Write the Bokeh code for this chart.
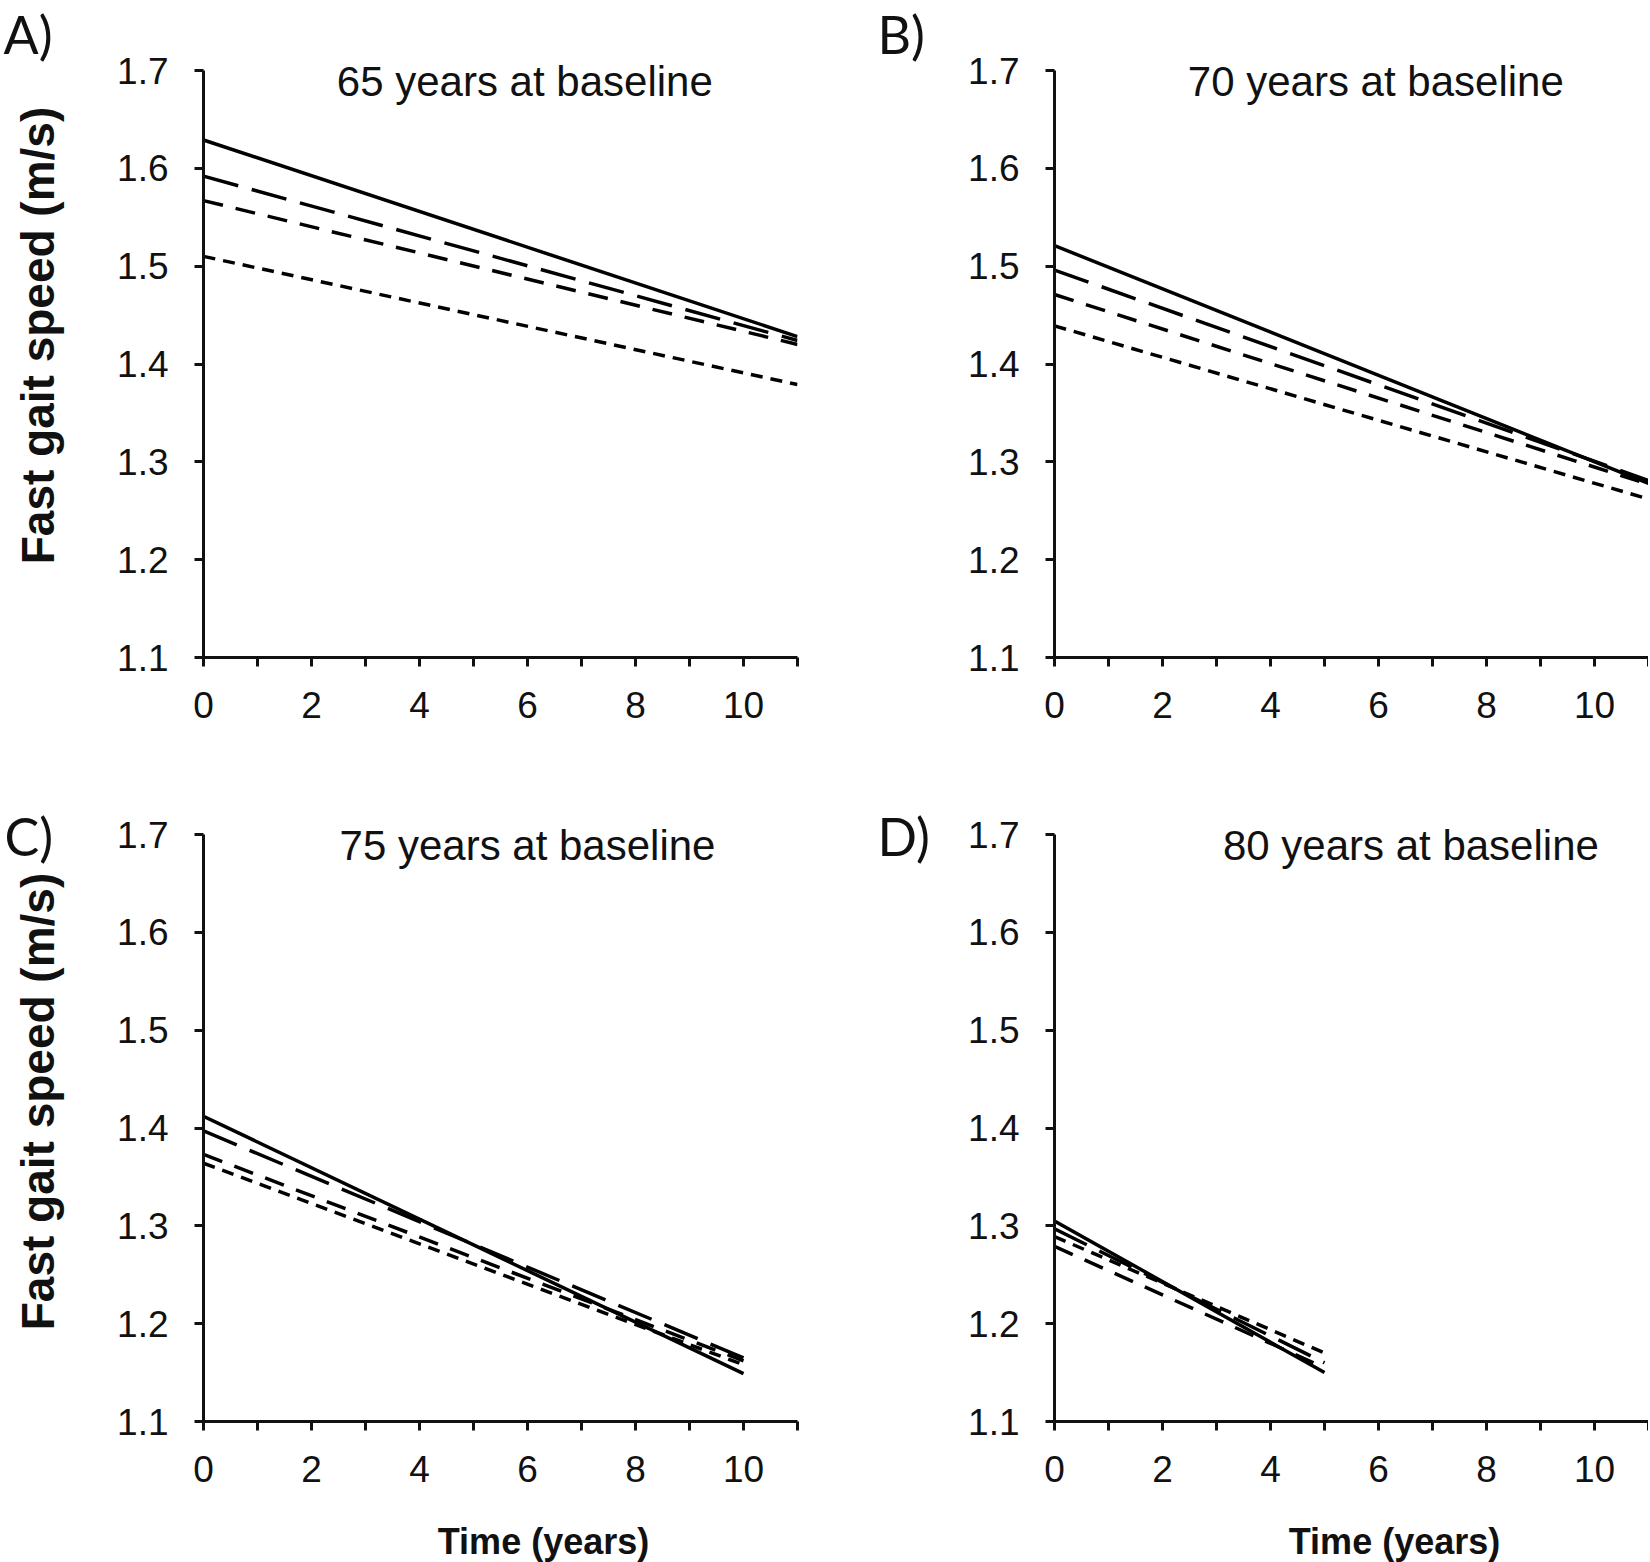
import math

from bokeh.embed import file_html
from bokeh.layouts import column, row
from bokeh.models import FixedTicker, Label, Range1d
from bokeh.plotting import figure
from bokeh.resources import INLINE

# Time since baseline (years), start and end of each fitted line
years_a = [0, 11]
years_b = [0, 11]
years_c = [0, 10]
years_d = [0, 5]

# Predicted fast gait speed (m/s) at start and end, per line style
a_solid = [1.629, 1.428]
a_long = [1.592, 1.424]
a_medium = [1.567, 1.420]
a_short = [1.510, 1.379]

b_solid = [1.521, 1.278]
b_long = [1.496, 1.281]
b_medium = [1.471, 1.277]
b_short = [1.439, 1.262]

c_solid = [1.412, 1.149]
c_long = [1.397, 1.165]
c_medium = [1.373, 1.162]
c_short = [1.364, 1.158]

d_solid = [1.305, 1.150]
d_long = [1.297, 1.160]
d_medium = [1.279, 1.155]
d_short = [1.289, 1.170]

panel_letters = ["A)", "B)", "C)", "D)"]
panel_titles = ["65 years at baseline", "70 years at baseline",
                "75 years at baseline", "80 years at baseline"]
y_ticks = [1.1, 1.2, 1.3, 1.4, 1.5, 1.6, 1.7]
x_ticks = [0, 2, 4, 6, 8, 10]
x_minor = [1, 3, 5, 7, 9, 11]

FONT = "Liberation Sans"
INK = "#111111"
DASHES = {"solid": "solid", "long": "36 14", "medium": "20 13", "short": "12 8"}

PX = 587 / 0.6          # pixels per m/s on the y axis
FW = 594                # frame width of a panel (0..11 years)

# top row: frames start 4px from the top, the 1.7 tick sits 66px lower
TOP = dict(top=4, extra=66, bottom=123)
# bottom row: frames start 4px below the row, the 1.7 tick 50px lower
BOT = dict(top=4, extra=50, bottom=90)


def blank(width, height, x0, top_y, bottom_y, borders):
    # empty strip whose frame coordinates are page pixels
    t, b = borders
    s = figure(frame_width=width, frame_height=height,
               min_border_left=0, min_border_right=0,
               min_border_top=t, min_border_bottom=b,
               x_range=Range1d(x0, x0 + width),
               y_range=Range1d(bottom_y, top_y),
               x_axis_type=None, y_axis_type=None,
               output_backend="svg", toolbar_location=None, tools="")
    s.outline_line_color = None
    s.background_fill_color = "white"
    s.border_fill_color = "white"
    return s


def add_letter(s, x, y, letter):
    s.add_layout(Label(x=x, y=y, text=letter, text_font="Lato",
                       text_font_size="52px", text_color=INK,
                       text_align="left", text_baseline="middle"))


def add_ylabel(s, y):
    s.add_layout(Label(x=37, y=y, text="Fast gait speed (m/s)",
                       text_font=FONT, text_font_size="46px",
                       text_font_style="bold", text_color=INK,
                       angle=math.pi / 2, text_align="center",
                       text_baseline="middle"))


def make_panel(years, series, title, left, right, geo, title_x):
    fh = 587 + geo["extra"]
    p = figure(frame_width=FW, frame_height=fh,
               min_border_left=left, min_border_right=right,
               min_border_top=geo["top"], min_border_bottom=geo["bottom"],
               x_range=(0, 11), y_range=(1.1, 1.7 + geo["extra"] / PX),
               output_backend="svg", toolbar_location=None, tools="")
    p.outline_line_color = None
    p.grid.grid_line_color = None
    p.background_fill_color = "white"
    p.border_fill_color = "white"

    for style, vals in series:
        p.line(years, vals, line_color="black", line_width=3.5,
               line_dash=DASHES[style])

    p.xaxis.ticker = FixedTicker(ticks=x_ticks, minor_ticks=x_minor)
    p.yaxis.ticker = FixedTicker(ticks=y_ticks, minor_ticks=[])
    p.yaxis.bounds = (1.1, 1.7)
    for ax in (p.xaxis, p.yaxis):
        ax.axis_line_width = 3
        ax.axis_line_color = INK
        ax.major_tick_line_width = 3
        ax.major_tick_line_color = INK
        ax.minor_tick_line_width = 3
        ax.minor_tick_line_color = INK
        ax.major_tick_in = 0
        ax.major_tick_out = 9
        ax.minor_tick_in = 0
        ax.minor_tick_out = 9
        ax.major_label_text_font = FONT
        ax.major_label_text_font_size = "37px"
        ax.major_label_text_color = INK
    p.xaxis.major_label_standoff = 25
    p.yaxis.major_label_standoff = 26

    p.add_layout(Label(x=title_x, y=1.689, text=title,
                       text_font=FONT, text_font_size="42px",
                       text_color=INK, text_align="center",
                       text_baseline="middle"))
    return p


# ---- top row (page y 0..780) ----
top_fh = 587 + TOP["extra"]
y_top0 = TOP["top"]
y_top1 = y_top0 + top_fh
pa = make_panel(years_a, [("solid", a_solid), ("long", a_long),
                          ("medium", a_medium), ("short", a_short)],
                panel_titles[0], 95, 41, TOP, 5.95)
pb = make_panel(years_b, [("solid", b_solid), ("long", b_long),
                          ("medium", b_medium), ("short", b_short)],
                panel_titles[1], 94, 0, TOP, 5.95)
sa = blank(108, top_fh, 0, y_top0, y_top1, (TOP["top"], TOP["bottom"]))
sb = blank(122, top_fh, 838, y_top0, y_top1, (TOP["top"], TOP["bottom"]))
add_letter(sa, 3, 33, panel_letters[0])
add_letter(sb, 877, 33, panel_letters[1])
add_ylabel(sa, 335)

# ---- bottom row (page y 780..1511) ----
row2 = y_top1 + TOP["bottom"]
bot_fh = 587 + BOT["extra"]
y_bot0 = row2 + BOT["top"]
y_bot1 = y_bot0 + bot_fh
pc = make_panel(years_c, [("solid", c_solid), ("long", c_long),
                          ("medium", c_medium), ("short", c_short)],
                panel_titles[2], 95, 41, BOT, 6.0)
pd = make_panel(years_d, [("solid", d_solid), ("long", d_long),
                          ("medium", d_medium), ("short", d_short)],
                panel_titles[3], 94, 0, BOT, 6.6)
sc = blank(108, bot_fh, 0, y_bot0, y_bot1, (BOT["top"], BOT["bottom"]))
sd = blank(122, bot_fh, 838, y_bot0, y_bot1, (BOT["top"], BOT["bottom"]))
add_letter(sc, 4, 835, panel_letters[2])
add_letter(sd, 877, 835, panel_letters[3])
add_ylabel(sc, 1101)

# ---- strip holding the x axis titles ----
strip_y0 = y_bot1 + BOT["bottom"]
strip = blank(1648, 51, 0, strip_y0, strip_y0 + 51, (0, 0))
for cx in (543, 1394):
    strip.add_layout(Label(x=cx, y=strip_y0 + 30, text="Time (years)",
                           text_font=FONT, text_font_size="36px",
                           text_font_style="bold", text_color=INK,
                           text_align="center", text_baseline="middle"))

layout = column(row(sa, pa, sb, pb), row(sc, pc, sd, pd), strip)

open("out.html", "w").write(file_html(layout, INLINE))
